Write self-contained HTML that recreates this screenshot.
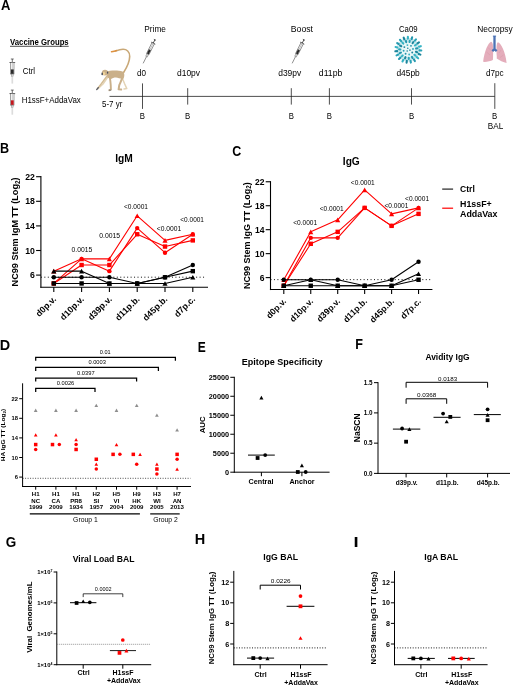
<!DOCTYPE html>
<html lang="en">
<head>
<meta charset="utf-8">
<title>Figure</title>
<style>
html,body{margin:0;padding:0;background:#fff;}
body{width:515px;height:685px;overflow:hidden;}
svg{display:block;}
svg text{font-family:"Liberation Sans",Arial,sans-serif;}
</style>
</head>
<body>
<svg width="515" height="685" viewBox="0 0 515 685">
<rect width="515" height="685" fill="#ffffff"/>
<text x="0.90" y="9.70" font-size="14.00" font-weight="bold" textLength="9.40" lengthAdjust="spacingAndGlyphs">A</text>
<text x="10.00" y="45.10" font-size="8.40" font-weight="bold" textLength="58.70" lengthAdjust="spacingAndGlyphs">Vaccine Groups</text>
<line x1="10.00" y1="46.30" x2="68.70" y2="46.30" stroke="#000000" stroke-width="0.7"/>
<g transform="translate(12.30 59.00) rotate(0) scale(1.0)">
<line x1="-1.44" y1="0" x2="1.44" y2="0" stroke="#333" stroke-width="0.7"/>
<line x1="0" y1="0" x2="0" y2="3.4" stroke="#333" stroke-width="0.7"/>
<line x1="-2.89" y1="3.5" x2="2.89" y2="3.5" stroke="#333" stroke-width="0.7"/>
<rect x="-1.70" y="3.6" width="3.40" height="11.4" fill="#fbfbfb" stroke="#4a4a4a" stroke-width="0.5"/>
<line x1="0" y1="3.5" x2="0" y2="10.5" stroke="#999" stroke-width="0.5"/>
<rect x="-1.40" y="10.4" width="2.80" height="4.5" fill="#2b2b2b"/>
<rect x="-0.8" y="15.0" width="1.6" height="2.6" fill="#ddd" stroke="#666" stroke-width="0.4"/>
<line x1="0" y1="17.6" x2="0" y2="24.6" stroke="#dcdcdc" stroke-width="1.7"/>
</g>
<text x="22.80" y="73.90" font-size="8.70" textLength="12.20" lengthAdjust="spacingAndGlyphs">Ctrl</text>
<g transform="translate(12.30 90.10) rotate(0) scale(1.0)">
<line x1="-1.44" y1="0" x2="1.44" y2="0" stroke="#333" stroke-width="0.7"/>
<line x1="0" y1="0" x2="0" y2="3.4" stroke="#333" stroke-width="0.7"/>
<line x1="-2.89" y1="3.5" x2="2.89" y2="3.5" stroke="#333" stroke-width="0.7"/>
<rect x="-1.70" y="3.6" width="3.40" height="11.4" fill="#fbfbfb" stroke="#4a4a4a" stroke-width="0.5"/>
<line x1="0" y1="3.5" x2="0" y2="10.5" stroke="#999" stroke-width="0.5"/>
<rect x="-1.40" y="10.2" width="2.80" height="4.6" fill="#c4161c"/>
<rect x="-0.8" y="15.0" width="1.6" height="2.6" fill="#ddd" stroke="#666" stroke-width="0.4"/>
<line x1="0" y1="17.6" x2="0" y2="24.6" stroke="#dcdcdc" stroke-width="1.7"/>
</g>
<text x="21.70" y="103.10" font-size="8.70" textLength="59.10" lengthAdjust="spacingAndGlyphs">H1ssF+AddaVax</text>
<g id="monkey">
<path d="M123.6,72.5 C126.5,68 129.6,61 129.7,56.5 C129.8,51.5 126.5,49.2 123,49.3 C120,49.4 117.5,50.3 115.5,51" fill="none" stroke="#c9a877" stroke-width="1.6" stroke-linecap="round"/>
<path d="M116.5,50.6 C114.8,51.0 113,51.5 111.5,51.7" fill="none" stroke="#dd9140" stroke-width="1.5" stroke-linecap="round"/>
<path d="M108.5,76 L103,84 L98,88.6" fill="none" stroke="#e3d3b5" stroke-width="1.5" stroke-linecap="round" stroke-linejoin="round"/>
<path d="M122,77.5 L124.5,83.5 L126.8,88.6 L124,89" fill="none" stroke="#e3d3b5" stroke-width="1.5" stroke-linecap="round" stroke-linejoin="round"/>
<path d="M105.8,72 C110,70.2 118,70.2 122.5,71.5 C124.8,72.5 124.8,76.5 123.2,79 L119,78.2 C116,77 113,77.8 110.8,79.2 L107.5,77.5 Z" fill="#cab08a"/>
<path d="M122.8,75 C122.5,79 120.5,82 119.3,85 L118.6,89.3 L121.2,89.6" fill="none" stroke="#cab08a" stroke-width="2.0" stroke-linecap="round" stroke-linejoin="round"/>
<path d="M109.3,75.5 C110.5,79.5 110.8,84 110.9,89.4 L109.4,90.2" fill="none" stroke="#cab08a" stroke-width="1.9" stroke-linecap="round" stroke-linejoin="round"/>
<path d="M107,76 L101.5,83.5 L97.2,88.8" fill="none" stroke="#d2ba92" stroke-width="1.3" stroke-linecap="round" stroke-linejoin="round"/>
<path d="M98.3,87.6 L96.7,89.6" fill="none" stroke="#555a66" stroke-width="1.3" stroke-linecap="round"/>
<path d="M109.2,90.2 L110.8,90.2" fill="none" stroke="#777" stroke-width="0.9" stroke-linecap="round"/>
<ellipse cx="105" cy="72.6" rx="3.1" ry="2.9" fill="#cab08a"/>
<ellipse cx="103.8" cy="73.6" rx="1.5" ry="1.6" fill="#f0d49a"/>
<ellipse cx="102.2" cy="73.9" rx="0.8" ry="1.3" fill="#4a4e5a"/>
<ellipse cx="107.6" cy="72.7" rx="0.7" ry="1.1" fill="#4a4e5a"/>
</g>
<text x="102.00" y="106.50" font-size="8.70" textLength="20.30" lengthAdjust="spacingAndGlyphs">5-7 yr</text>
<line x1="109.50" y1="96.40" x2="494.80" y2="96.40" stroke="#222" stroke-width="0.8"/>
<line x1="142.50" y1="83.40" x2="142.50" y2="108.90" stroke="#222" stroke-width="0.8"/>
<line x1="187.70" y1="88.20" x2="187.70" y2="104.60" stroke="#222" stroke-width="0.8"/>
<line x1="291.30" y1="88.20" x2="291.30" y2="104.60" stroke="#222" stroke-width="0.8"/>
<line x1="329.40" y1="88.20" x2="329.40" y2="104.60" stroke="#222" stroke-width="0.8"/>
<line x1="411.50" y1="88.20" x2="411.50" y2="104.60" stroke="#222" stroke-width="0.8"/>
<line x1="494.80" y1="83.20" x2="494.80" y2="108.90" stroke="#222" stroke-width="0.8"/>
<text x="137.00" y="76.30" font-size="8.70" textLength="9.00" lengthAdjust="spacingAndGlyphs">d0</text>
<text x="177.00" y="76.30" font-size="8.70" textLength="23.00" lengthAdjust="spacingAndGlyphs">d10pv</text>
<text x="278.20" y="76.30" font-size="8.70" textLength="23.00" lengthAdjust="spacingAndGlyphs">d39pv</text>
<text x="318.80" y="76.30" font-size="8.70" textLength="23.50" lengthAdjust="spacingAndGlyphs">d11pb</text>
<text x="396.40" y="76.30" font-size="8.70" textLength="23.40" lengthAdjust="spacingAndGlyphs">d45pb</text>
<text x="486.00" y="76.30" font-size="8.70" textLength="17.70" lengthAdjust="spacingAndGlyphs">d7pc</text>
<text x="142.30" y="118.60" font-size="8.30" text-anchor="middle" textLength="5.20" lengthAdjust="spacingAndGlyphs">B</text>
<text x="187.50" y="118.60" font-size="8.30" text-anchor="middle" textLength="5.20" lengthAdjust="spacingAndGlyphs">B</text>
<text x="291.30" y="118.60" font-size="8.30" text-anchor="middle" textLength="5.20" lengthAdjust="spacingAndGlyphs">B</text>
<text x="329.40" y="118.60" font-size="8.30" text-anchor="middle" textLength="5.20" lengthAdjust="spacingAndGlyphs">B</text>
<text x="411.50" y="118.60" font-size="8.30" text-anchor="middle" textLength="5.20" lengthAdjust="spacingAndGlyphs">B</text>
<text x="494.60" y="118.60" font-size="8.30" text-anchor="middle" textLength="5.20" lengthAdjust="spacingAndGlyphs">B</text>
<text x="495.50" y="129.10" font-size="8.30" text-anchor="middle" textLength="15.40" lengthAdjust="spacingAndGlyphs">BAL</text>
<text x="144.30" y="31.70" font-size="8.70" textLength="21.60" lengthAdjust="spacingAndGlyphs">Prime</text>
<text x="290.80" y="31.70" font-size="8.70" textLength="22.20" lengthAdjust="spacingAndGlyphs">Boost</text>
<text x="399.00" y="31.70" font-size="8.70" textLength="18.60" lengthAdjust="spacingAndGlyphs">Ca09</text>
<text x="477.30" y="31.50" font-size="8.70" textLength="35.40" lengthAdjust="spacingAndGlyphs">Necropsy</text>
<g transform="translate(154.90 39.80) rotate(26.5) scale(1.07)">
<line x1="-1.06" y1="0" x2="1.06" y2="0" stroke="#333" stroke-width="0.7"/>
<line x1="0" y1="0" x2="0" y2="3.4" stroke="#333" stroke-width="0.7"/>
<line x1="-2.12" y1="3.5" x2="2.12" y2="3.5" stroke="#333" stroke-width="0.7"/>
<rect x="-1.25" y="3.6" width="2.50" height="11.4" fill="#fbfbfb" stroke="#4a4a4a" stroke-width="0.5"/>
<line x1="0" y1="3.5" x2="0" y2="10.5" stroke="#999" stroke-width="0.5"/>
<rect x="-0.95" y="10.4" width="1.90" height="4.5" fill="#2b2b2b"/>
<rect x="-0.8" y="15.0" width="1.6" height="2.6" fill="#ddd" stroke="#666" stroke-width="0.4"/>
<line x1="0" y1="17.6" x2="0" y2="24.6" stroke="#555" stroke-width="0.55"/>
</g>
<g transform="translate(303.90 39.80) rotate(26.5) scale(1.07)">
<line x1="-1.06" y1="0" x2="1.06" y2="0" stroke="#333" stroke-width="0.7"/>
<line x1="0" y1="0" x2="0" y2="3.4" stroke="#333" stroke-width="0.7"/>
<line x1="-2.12" y1="3.5" x2="2.12" y2="3.5" stroke="#333" stroke-width="0.7"/>
<rect x="-1.25" y="3.6" width="2.50" height="11.4" fill="#fbfbfb" stroke="#4a4a4a" stroke-width="0.5"/>
<line x1="0" y1="3.5" x2="0" y2="10.5" stroke="#999" stroke-width="0.5"/>
<rect x="-0.95" y="10.4" width="1.90" height="4.5" fill="#2b2b2b"/>
<rect x="-0.8" y="15.0" width="1.6" height="2.6" fill="#ddd" stroke="#666" stroke-width="0.4"/>
<line x1="0" y1="17.6" x2="0" y2="24.6" stroke="#555" stroke-width="0.55"/>
</g>
<g id="virus">
<circle cx="408.3" cy="49.8" r="11.76" fill="#c9e9ed"/>
<circle cx="408.0" cy="49.5" r="7.84" fill="#e9f7f8"/>
<line x1="419.49" y1="50.36" x2="421.30" y2="50.45" stroke="#2aa3b7" stroke-width="2.1" stroke-linecap="round"/>
<line x1="418.70" y1="53.96" x2="420.39" y2="54.64" stroke="#1c869d" stroke-width="2.1" stroke-linecap="round"/>
<line x1="416.78" y1="57.11" x2="418.16" y2="58.30" stroke="#35b3c4" stroke-width="2.1" stroke-linecap="round"/>
<line x1="413.95" y1="59.47" x2="414.87" y2="61.04" stroke="#2396ad" stroke-width="2.1" stroke-linecap="round"/>
<line x1="410.50" y1="60.78" x2="410.86" y2="62.57" stroke="#2aa3b7" stroke-width="2.1" stroke-linecap="round"/>
<line x1="406.82" y1="60.90" x2="406.58" y2="62.71" stroke="#1c869d" stroke-width="2.1" stroke-linecap="round"/>
<line x1="403.29" y1="59.82" x2="402.48" y2="61.45" stroke="#35b3c4" stroke-width="2.1" stroke-linecap="round"/>
<line x1="400.31" y1="57.65" x2="399.01" y2="58.93" stroke="#2396ad" stroke-width="2.1" stroke-linecap="round"/>
<line x1="398.20" y1="54.63" x2="396.55" y2="55.42" stroke="#2aa3b7" stroke-width="2.1" stroke-linecap="round"/>
<line x1="397.17" y1="51.09" x2="395.37" y2="51.30" stroke="#1c869d" stroke-width="2.1" stroke-linecap="round"/>
<line x1="397.36" y1="47.41" x2="395.58" y2="47.02" stroke="#35b3c4" stroke-width="2.1" stroke-linecap="round"/>
<line x1="398.73" y1="43.98" x2="397.17" y2="43.04" stroke="#2396ad" stroke-width="2.1" stroke-linecap="round"/>
<line x1="401.14" y1="41.19" x2="399.97" y2="39.79" stroke="#2aa3b7" stroke-width="2.1" stroke-linecap="round"/>
<line x1="404.32" y1="39.33" x2="403.67" y2="37.63" stroke="#1c869d" stroke-width="2.1" stroke-linecap="round"/>
<line x1="407.93" y1="38.61" x2="407.87" y2="36.79" stroke="#35b3c4" stroke-width="2.1" stroke-linecap="round"/>
<line x1="411.59" y1="39.09" x2="412.12" y2="37.35" stroke="#2396ad" stroke-width="2.1" stroke-linecap="round"/>
<line x1="414.89" y1="40.74" x2="415.96" y2="39.27" stroke="#2aa3b7" stroke-width="2.1" stroke-linecap="round"/>
<line x1="417.47" y1="43.37" x2="418.96" y2="42.33" stroke="#1c869d" stroke-width="2.1" stroke-linecap="round"/>
<line x1="419.06" y1="46.70" x2="420.81" y2="46.19" stroke="#35b3c4" stroke-width="2.1" stroke-linecap="round"/>
<line x1="415.88" y1="51.81" x2="417.23" y2="52.17" stroke="#1c869d" stroke-width="2.0" stroke-linecap="round"/>
<line x1="414.40" y1="54.72" x2="415.49" y2="55.60" stroke="#35b3c4" stroke-width="2.0" stroke-linecap="round"/>
<line x1="411.88" y1="56.78" x2="412.51" y2="58.02" stroke="#2396ad" stroke-width="2.0" stroke-linecap="round"/>
<line x1="408.73" y1="57.63" x2="408.81" y2="59.03" stroke="#2aa3b7" stroke-width="2.0" stroke-linecap="round"/>
<line x1="405.51" y1="57.13" x2="405.01" y2="58.43" stroke="#1c869d" stroke-width="2.0" stroke-linecap="round"/>
<line x1="402.77" y1="55.36" x2="401.78" y2="56.35" stroke="#35b3c4" stroke-width="2.0" stroke-linecap="round"/>
<line x1="400.99" y1="52.63" x2="399.68" y2="53.13" stroke="#2396ad" stroke-width="2.0" stroke-linecap="round"/>
<line x1="400.47" y1="49.41" x2="399.07" y2="49.34" stroke="#2aa3b7" stroke-width="2.0" stroke-linecap="round"/>
<line x1="401.31" y1="46.26" x2="400.06" y2="45.62" stroke="#1c869d" stroke-width="2.0" stroke-linecap="round"/>
<line x1="403.35" y1="43.72" x2="402.47" y2="42.63" stroke="#35b3c4" stroke-width="2.0" stroke-linecap="round"/>
<line x1="406.25" y1="42.23" x2="405.89" y2="40.88" stroke="#2396ad" stroke-width="2.0" stroke-linecap="round"/>
<line x1="409.51" y1="42.05" x2="409.72" y2="40.67" stroke="#2aa3b7" stroke-width="2.0" stroke-linecap="round"/>
<line x1="412.55" y1="43.21" x2="413.31" y2="42.04" stroke="#1c869d" stroke-width="2.0" stroke-linecap="round"/>
<line x1="414.87" y1="45.51" x2="416.04" y2="44.75" stroke="#35b3c4" stroke-width="2.0" stroke-linecap="round"/>
<line x1="416.04" y1="48.56" x2="417.42" y2="48.33" stroke="#2396ad" stroke-width="2.0" stroke-linecap="round"/>
<circle cx="412.23" cy="52.49" r="0.95" fill="#1c869d"/>
<circle cx="409.18" cy="54.48" r="0.95" fill="#35b3c4"/>
<circle cx="405.61" cy="53.73" r="0.95" fill="#2396ad"/>
<circle cx="403.62" cy="50.68" r="0.95" fill="#2aa3b7"/>
<circle cx="404.37" cy="47.11" r="0.95" fill="#1c869d"/>
<circle cx="407.42" cy="45.12" r="0.95" fill="#35b3c4"/>
<circle cx="410.99" cy="45.87" r="0.95" fill="#2396ad"/>
<circle cx="412.98" cy="48.92" r="0.95" fill="#2aa3b7"/>
<circle cx="409.95" cy="50.13" r="0.8" fill="#1c869d"/>
<circle cx="407.19" cy="51.06" r="0.8" fill="#1c869d"/>
<circle cx="407.77" cy="48.21" r="0.8" fill="#1c869d"/>
</g>
<g id="lungs">
<path d="M490.7,41.9 C488.2,42.6 484.2,51.5 483.1,61.8 C486,62.2 490.6,61.2 492.9,60 C493.2,55.5 493.2,49 492.9,45 C492.7,43 491.8,41.6 490.7,41.9 Z" fill="#e4adbb"/>
<path d="M497.9,42.3 C500.6,42.6 505.6,52 506.6,62.9 C503.6,62.4 499,60.4 496.7,58.6 C497.1,56.6 496.4,54.5 496.5,51.5 C496.6,48 496.3,43.5 497.9,42.3 Z" fill="#e4adbb"/>
<path d="M486.5,52 L490,55 M488,47.5 L491,50.5 M501,50 L499,53 M503.5,55 L500,57.5" fill="none" stroke="#d895a8" stroke-width="0.6" opacity="0.8"/>
<path d="M494.5,35.9 L494.5,49.7 M494.5,49.2 L492.3,51.2 M494.5,49.2 L496.7,51.2" fill="none" stroke="#4d72b4" stroke-width="2.3" stroke-linecap="butt"/>
<line x1="492.9" y1="36.1" x2="496.1" y2="36.1" stroke="#4d72b4" stroke-width="1.0"/>
</g>
<text x="0.00" y="152.90" font-size="14.00" font-weight="bold" textLength="9.10" lengthAdjust="spacingAndGlyphs">B</text>
<line x1="40.90" y1="277.19" x2="205.00" y2="277.19" stroke="#000000" stroke-width="0.95" stroke-dasharray="1.0 2.45"/>
<polyline points="53.80,271.16 81.60,258.86 109.40,258.86 137.20,215.81 165.00,240.41 192.80,234.26" fill="none" stroke="#ff0000" stroke-width="1.1" stroke-linejoin="round"/>
<polyline points="53.80,283.46 81.60,258.86 109.40,271.16 137.20,228.11 165.00,252.71 192.80,234.26" fill="none" stroke="#ff0000" stroke-width="1.1" stroke-linejoin="round"/>
<polyline points="53.80,283.46 81.60,265.01 109.40,265.01 137.20,234.26 165.00,246.56 192.80,240.41" fill="none" stroke="#ff0000" stroke-width="1.1" stroke-linejoin="round"/>
<polygon points="53.80,268.87 51.25,273.46 56.35,273.46" fill="#ff0000"/>
<polygon points="81.60,256.57 79.05,261.16 84.15,261.16" fill="#ff0000"/>
<polygon points="109.40,256.57 106.85,261.16 111.95,261.16" fill="#ff0000"/>
<polygon points="137.20,213.52 134.65,218.11 139.75,218.11" fill="#ff0000"/>
<polygon points="165.00,238.12 162.45,242.71 167.55,242.71" fill="#ff0000"/>
<polygon points="192.80,231.97 190.25,236.56 195.35,236.56" fill="#ff0000"/>
<circle cx="53.80" cy="283.46" r="2.20" fill="#ff0000"/>
<circle cx="81.60" cy="258.86" r="2.20" fill="#ff0000"/>
<circle cx="109.40" cy="271.16" r="2.20" fill="#ff0000"/>
<circle cx="137.20" cy="228.11" r="2.20" fill="#ff0000"/>
<circle cx="165.00" cy="252.71" r="2.20" fill="#ff0000"/>
<circle cx="192.80" cy="234.26" r="2.20" fill="#ff0000"/>
<rect x="51.60" y="281.26" width="4.40" height="4.40" fill="#ff0000"/>
<rect x="79.40" y="262.81" width="4.40" height="4.40" fill="#ff0000"/>
<rect x="107.20" y="262.81" width="4.40" height="4.40" fill="#ff0000"/>
<rect x="135.00" y="232.06" width="4.40" height="4.40" fill="#ff0000"/>
<rect x="162.80" y="244.36" width="4.40" height="4.40" fill="#ff0000"/>
<rect x="190.60" y="238.21" width="4.40" height="4.40" fill="#ff0000"/>
<polyline points="53.80,271.16 81.60,271.16 109.40,283.46 137.20,283.46 165.00,283.46 192.80,277.31" fill="none" stroke="#000000" stroke-width="1.1" stroke-linejoin="round"/>
<polyline points="53.80,277.31 81.60,277.31 109.40,277.31 137.20,283.46 165.00,277.31 192.80,265.01" fill="none" stroke="#000000" stroke-width="1.1" stroke-linejoin="round"/>
<polyline points="53.80,283.46 81.60,283.46 109.40,283.46 137.20,283.46 165.00,277.31 192.80,271.16" fill="none" stroke="#000000" stroke-width="1.1" stroke-linejoin="round"/>
<polygon points="53.80,268.87 51.25,273.46 56.35,273.46" fill="#000000"/>
<polygon points="81.60,268.87 79.05,273.46 84.15,273.46" fill="#000000"/>
<polygon points="109.40,281.17 106.85,285.76 111.95,285.76" fill="#000000"/>
<polygon points="137.20,281.17 134.65,285.76 139.75,285.76" fill="#000000"/>
<polygon points="165.00,281.17 162.45,285.76 167.55,285.76" fill="#000000"/>
<polygon points="192.80,275.02 190.25,279.61 195.35,279.61" fill="#000000"/>
<circle cx="53.80" cy="277.31" r="2.20" fill="#000000"/>
<circle cx="81.60" cy="277.31" r="2.20" fill="#000000"/>
<circle cx="109.40" cy="277.31" r="2.20" fill="#000000"/>
<circle cx="137.20" cy="283.46" r="2.20" fill="#000000"/>
<circle cx="165.00" cy="277.31" r="2.20" fill="#000000"/>
<circle cx="192.80" cy="265.01" r="2.20" fill="#000000"/>
<rect x="51.60" y="281.26" width="4.40" height="4.40" fill="#000000"/>
<rect x="79.40" y="281.26" width="4.40" height="4.40" fill="#000000"/>
<rect x="107.20" y="281.26" width="4.40" height="4.40" fill="#000000"/>
<rect x="135.00" y="281.26" width="4.40" height="4.40" fill="#000000"/>
<rect x="162.80" y="275.11" width="4.40" height="4.40" fill="#000000"/>
<rect x="190.60" y="268.96" width="4.40" height="4.40" fill="#000000"/>
<line x1="40.90" y1="176.05" x2="40.90" y2="287.85" stroke="#000000" stroke-width="1.1"/>
<line x1="40.35" y1="287.30" x2="208.00" y2="287.30" stroke="#000000" stroke-width="1.1"/>
<line x1="36.10" y1="275.10" x2="40.90" y2="275.10" stroke="#000000" stroke-width="1.1"/>
<text x="34.90" y="278.20" font-size="8.70" font-weight="bold" text-anchor="end">6</text>
<line x1="36.10" y1="250.50" x2="40.90" y2="250.50" stroke="#000000" stroke-width="1.1"/>
<text x="34.90" y="253.60" font-size="8.70" font-weight="bold" text-anchor="end">10</text>
<line x1="36.10" y1="225.90" x2="40.90" y2="225.90" stroke="#000000" stroke-width="1.1"/>
<text x="34.90" y="229.00" font-size="8.70" font-weight="bold" text-anchor="end">14</text>
<line x1="36.10" y1="201.30" x2="40.90" y2="201.30" stroke="#000000" stroke-width="1.1"/>
<text x="34.90" y="204.40" font-size="8.70" font-weight="bold" text-anchor="end">18</text>
<line x1="36.10" y1="176.70" x2="40.90" y2="176.70" stroke="#000000" stroke-width="1.1"/>
<text x="34.90" y="179.80" font-size="8.70" font-weight="bold" text-anchor="end">22</text>
<line x1="53.80" y1="287.30" x2="53.80" y2="291.90" stroke="#000000" stroke-width="1.1"/>
<line x1="81.60" y1="287.30" x2="81.60" y2="291.90" stroke="#000000" stroke-width="1.1"/>
<line x1="109.40" y1="287.30" x2="109.40" y2="291.90" stroke="#000000" stroke-width="1.1"/>
<line x1="137.20" y1="287.30" x2="137.20" y2="291.90" stroke="#000000" stroke-width="1.1"/>
<line x1="165.00" y1="287.30" x2="165.00" y2="291.90" stroke="#000000" stroke-width="1.1"/>
<line x1="192.80" y1="287.30" x2="192.80" y2="291.90" stroke="#000000" stroke-width="1.1"/>
<text x="56.80" y="299.70" font-size="8.80" font-weight="bold" text-anchor="end" transform="rotate(-45 56.80 299.70)">d0p.v.</text>
<text x="84.60" y="299.70" font-size="8.80" font-weight="bold" text-anchor="end" transform="rotate(-45 84.60 299.70)">d10p.v.</text>
<text x="112.40" y="299.70" font-size="8.80" font-weight="bold" text-anchor="end" transform="rotate(-45 112.40 299.70)">d39p.v.</text>
<text x="140.20" y="299.70" font-size="8.80" font-weight="bold" text-anchor="end" transform="rotate(-45 140.20 299.70)">d11p.b.</text>
<text x="168.00" y="299.70" font-size="8.80" font-weight="bold" text-anchor="end" transform="rotate(-45 168.00 299.70)">d45p.b.</text>
<text x="195.80" y="299.70" font-size="8.80" font-weight="bold" text-anchor="end" transform="rotate(-45 195.80 299.70)">d7p.c.</text>
<text x="18.20" y="231.95" font-size="9.15" font-weight="bold" text-anchor="middle" transform="rotate(-90 18.20 231.95)">NC99 Stem IgM TT (Log<tspan font-size="70%" dy="1.5">2</tspan><tspan dy="-1.5">)</tspan></text>
<text x="124.00" y="162.20" font-size="10.20" font-weight="bold" text-anchor="middle">IgM</text>
<text x="71.50" y="252.40" font-size="6.60" textLength="20.70" lengthAdjust="spacingAndGlyphs">0.0015</text>
<text x="99.20" y="238.00" font-size="6.60" textLength="21.00" lengthAdjust="spacingAndGlyphs">0.0015</text>
<text x="124.00" y="208.70" font-size="6.60" textLength="24.00" lengthAdjust="spacingAndGlyphs">&lt;0.0001</text>
<text x="156.80" y="230.90" font-size="6.60" textLength="24.50" lengthAdjust="spacingAndGlyphs">&lt;0.0001</text>
<text x="180.30" y="221.60" font-size="6.60" textLength="23.70" lengthAdjust="spacingAndGlyphs">&lt;0.0001</text>
<text x="232.30" y="156.40" font-size="14.00" font-weight="bold" textLength="9.00" lengthAdjust="spacingAndGlyphs">C</text>
<line x1="270.50" y1="279.64" x2="431.00" y2="279.64" stroke="#000000" stroke-width="0.95" stroke-dasharray="1.0 2.45"/>
<polyline points="283.80,279.76 310.75,231.84 337.70,219.86 364.65,189.91 391.60,213.87 418.55,207.88" fill="none" stroke="#ff0000" stroke-width="1.1" stroke-linejoin="round"/>
<polyline points="283.80,285.75 310.75,237.83 337.70,237.83 364.65,207.88 391.60,225.85 418.55,207.88" fill="none" stroke="#ff0000" stroke-width="1.1" stroke-linejoin="round"/>
<polyline points="283.80,285.75 310.75,243.82 337.70,231.84 364.65,207.88 391.60,225.85 418.55,213.87" fill="none" stroke="#ff0000" stroke-width="1.1" stroke-linejoin="round"/>
<polygon points="283.80,277.46 281.25,282.05 286.35,282.05" fill="#ff0000"/>
<polygon points="310.75,229.54 308.20,234.13 313.30,234.13" fill="#ff0000"/>
<polygon points="337.70,217.56 335.15,222.15 340.25,222.15" fill="#ff0000"/>
<polygon points="364.65,187.61 362.10,192.20 367.20,192.20" fill="#ff0000"/>
<polygon points="391.60,211.57 389.05,216.16 394.15,216.16" fill="#ff0000"/>
<polygon points="418.55,205.58 416.00,210.17 421.10,210.17" fill="#ff0000"/>
<circle cx="283.80" cy="285.75" r="2.20" fill="#ff0000"/>
<circle cx="310.75" cy="237.83" r="2.20" fill="#ff0000"/>
<circle cx="337.70" cy="237.83" r="2.20" fill="#ff0000"/>
<circle cx="364.65" cy="207.88" r="2.20" fill="#ff0000"/>
<circle cx="391.60" cy="225.85" r="2.20" fill="#ff0000"/>
<circle cx="418.55" cy="207.88" r="2.20" fill="#ff0000"/>
<rect x="281.60" y="283.55" width="4.40" height="4.40" fill="#ff0000"/>
<rect x="308.55" y="241.62" width="4.40" height="4.40" fill="#ff0000"/>
<rect x="335.50" y="229.64" width="4.40" height="4.40" fill="#ff0000"/>
<rect x="362.45" y="205.68" width="4.40" height="4.40" fill="#ff0000"/>
<rect x="389.40" y="223.65" width="4.40" height="4.40" fill="#ff0000"/>
<rect x="416.35" y="211.67" width="4.40" height="4.40" fill="#ff0000"/>
<polyline points="283.80,285.75 310.75,279.76 337.70,285.75 364.65,285.75 391.60,285.75 418.55,273.77" fill="none" stroke="#000000" stroke-width="1.1" stroke-linejoin="round"/>
<polyline points="283.80,279.76 310.75,279.76 337.70,279.76 364.65,285.75 391.60,279.76 418.55,261.79" fill="none" stroke="#000000" stroke-width="1.1" stroke-linejoin="round"/>
<polyline points="283.80,285.75 310.75,285.75 337.70,285.75 364.65,285.75 391.60,285.75 418.55,279.76" fill="none" stroke="#000000" stroke-width="1.1" stroke-linejoin="round"/>
<polygon points="283.80,283.45 281.25,288.04 286.35,288.04" fill="#000000"/>
<polygon points="310.75,277.46 308.20,282.05 313.30,282.05" fill="#000000"/>
<polygon points="337.70,283.45 335.15,288.04 340.25,288.04" fill="#000000"/>
<polygon points="364.65,283.45 362.10,288.04 367.20,288.04" fill="#000000"/>
<polygon points="391.60,283.45 389.05,288.04 394.15,288.04" fill="#000000"/>
<polygon points="418.55,271.47 416.00,276.06 421.10,276.06" fill="#000000"/>
<circle cx="283.80" cy="279.76" r="2.20" fill="#000000"/>
<circle cx="310.75" cy="279.76" r="2.20" fill="#000000"/>
<circle cx="337.70" cy="279.76" r="2.20" fill="#000000"/>
<circle cx="364.65" cy="285.75" r="2.20" fill="#000000"/>
<circle cx="391.60" cy="279.76" r="2.20" fill="#000000"/>
<circle cx="418.55" cy="261.79" r="2.20" fill="#000000"/>
<rect x="281.60" y="283.55" width="4.40" height="4.40" fill="#000000"/>
<rect x="308.55" y="283.55" width="4.40" height="4.40" fill="#000000"/>
<rect x="335.50" y="283.55" width="4.40" height="4.40" fill="#000000"/>
<rect x="362.45" y="283.55" width="4.40" height="4.40" fill="#000000"/>
<rect x="389.40" y="283.55" width="4.40" height="4.40" fill="#000000"/>
<rect x="416.35" y="277.56" width="4.40" height="4.40" fill="#000000"/>
<line x1="270.50" y1="181.15" x2="270.50" y2="290.05" stroke="#000000" stroke-width="1.1"/>
<line x1="269.95" y1="289.50" x2="432.40" y2="289.50" stroke="#000000" stroke-width="1.1"/>
<line x1="265.70" y1="277.60" x2="270.50" y2="277.60" stroke="#000000" stroke-width="1.1"/>
<text x="264.50" y="280.64" font-size="8.53" font-weight="bold" text-anchor="end">6</text>
<line x1="265.70" y1="253.64" x2="270.50" y2="253.64" stroke="#000000" stroke-width="1.1"/>
<text x="264.50" y="256.68" font-size="8.53" font-weight="bold" text-anchor="end">10</text>
<line x1="265.70" y1="229.68" x2="270.50" y2="229.68" stroke="#000000" stroke-width="1.1"/>
<text x="264.50" y="232.72" font-size="8.53" font-weight="bold" text-anchor="end">14</text>
<line x1="265.70" y1="205.72" x2="270.50" y2="205.72" stroke="#000000" stroke-width="1.1"/>
<text x="264.50" y="208.76" font-size="8.53" font-weight="bold" text-anchor="end">18</text>
<line x1="265.70" y1="181.76" x2="270.50" y2="181.76" stroke="#000000" stroke-width="1.1"/>
<text x="264.50" y="184.80" font-size="8.53" font-weight="bold" text-anchor="end">22</text>
<line x1="283.80" y1="289.50" x2="283.80" y2="294.10" stroke="#000000" stroke-width="1.1"/>
<line x1="310.75" y1="289.50" x2="310.75" y2="294.10" stroke="#000000" stroke-width="1.1"/>
<line x1="337.70" y1="289.50" x2="337.70" y2="294.10" stroke="#000000" stroke-width="1.1"/>
<line x1="364.65" y1="289.50" x2="364.65" y2="294.10" stroke="#000000" stroke-width="1.1"/>
<line x1="391.60" y1="289.50" x2="391.60" y2="294.10" stroke="#000000" stroke-width="1.1"/>
<line x1="418.55" y1="289.50" x2="418.55" y2="294.10" stroke="#000000" stroke-width="1.1"/>
<text x="286.80" y="301.90" font-size="8.62" font-weight="bold" text-anchor="end" transform="rotate(-45 286.80 301.90)">d0p.v.</text>
<text x="313.75" y="301.90" font-size="8.62" font-weight="bold" text-anchor="end" transform="rotate(-45 313.75 301.90)">d10p.v.</text>
<text x="340.70" y="301.90" font-size="8.62" font-weight="bold" text-anchor="end" transform="rotate(-45 340.70 301.90)">d39p.v.</text>
<text x="367.65" y="301.90" font-size="8.62" font-weight="bold" text-anchor="end" transform="rotate(-45 367.65 301.90)">d11p.b.</text>
<text x="394.60" y="301.90" font-size="8.62" font-weight="bold" text-anchor="end" transform="rotate(-45 394.60 301.90)">d45p.b.</text>
<text x="421.55" y="301.90" font-size="8.62" font-weight="bold" text-anchor="end" transform="rotate(-45 421.55 301.90)">d7p.c.</text>
<text x="250.00" y="235.60" font-size="8.97" font-weight="bold" text-anchor="middle" transform="rotate(-90 250.00 235.60)">NC99 Stem IgG TT (Log<tspan font-size="70%" dy="1.5">2</tspan><tspan dy="-1.5">)</tspan></text>
<text x="351.30" y="164.80" font-size="10.20" font-weight="bold" text-anchor="middle">IgG</text>
<text x="293.20" y="225.40" font-size="6.60" textLength="24.00" lengthAdjust="spacingAndGlyphs">&lt;0.0001</text>
<text x="319.70" y="210.70" font-size="6.60" textLength="24.00" lengthAdjust="spacingAndGlyphs">&lt;0.0001</text>
<text x="350.80" y="184.70" font-size="6.60" textLength="24.00" lengthAdjust="spacingAndGlyphs">&lt;0.0001</text>
<text x="384.40" y="208.20" font-size="6.60" textLength="24.00" lengthAdjust="spacingAndGlyphs">&lt;0.0001</text>
<text x="405.10" y="200.90" font-size="6.60" textLength="24.00" lengthAdjust="spacingAndGlyphs">&lt;0.0001</text>
<line x1="442.20" y1="189.10" x2="453.10" y2="189.10" stroke="#222" stroke-width="1.2"/>
<line x1="442.20" y1="208.20" x2="453.10" y2="208.20" stroke="#ff0000" stroke-width="1.2"/>
<text x="460.00" y="192.00" font-size="8.60" font-weight="bold" textLength="14.80" lengthAdjust="spacingAndGlyphs">Ctrl</text>
<text x="460.00" y="207.20" font-size="8.60" font-weight="bold" textLength="31.70" lengthAdjust="spacingAndGlyphs">H1ssF+</text>
<text x="460.00" y="216.90" font-size="8.60" font-weight="bold" textLength="37.50" lengthAdjust="spacingAndGlyphs">AddaVax</text>
<text x="-0.15" y="350.00" font-size="14.00" font-weight="bold" textLength="10.40" lengthAdjust="spacingAndGlyphs">D</text>
<line x1="22.60" y1="478.30" x2="190.50" y2="478.30" stroke="#000000" stroke-width="0.7" stroke-dasharray="1.0 1.5"/>
<line x1="22.60" y1="383.30" x2="22.60" y2="487.00" stroke="#000000" stroke-width="1.0"/>
<line x1="22.10" y1="486.50" x2="191.00" y2="486.50" stroke="#000000" stroke-width="1.0"/>
<line x1="19.20" y1="477.10" x2="22.60" y2="477.10" stroke="#000000" stroke-width="1.0"/>
<text x="18.00" y="479.20" font-size="5.80" font-weight="bold" text-anchor="end">6</text>
<line x1="19.20" y1="457.50" x2="22.60" y2="457.50" stroke="#000000" stroke-width="1.0"/>
<text x="18.00" y="459.60" font-size="5.80" font-weight="bold" text-anchor="end">10</text>
<line x1="19.20" y1="437.90" x2="22.60" y2="437.90" stroke="#000000" stroke-width="1.0"/>
<text x="18.00" y="440.00" font-size="5.80" font-weight="bold" text-anchor="end">14</text>
<line x1="19.20" y1="418.30" x2="22.60" y2="418.30" stroke="#000000" stroke-width="1.0"/>
<text x="18.00" y="420.40" font-size="5.80" font-weight="bold" text-anchor="end">18</text>
<line x1="19.20" y1="398.70" x2="22.60" y2="398.70" stroke="#000000" stroke-width="1.0"/>
<text x="18.00" y="400.80" font-size="5.80" font-weight="bold" text-anchor="end">22</text>
<line x1="35.70" y1="486.50" x2="35.70" y2="489.70" stroke="#000000" stroke-width="1.0"/>
<line x1="55.90" y1="486.50" x2="55.90" y2="489.70" stroke="#000000" stroke-width="1.0"/>
<line x1="76.10" y1="486.50" x2="76.10" y2="489.70" stroke="#000000" stroke-width="1.0"/>
<line x1="96.30" y1="486.50" x2="96.30" y2="489.70" stroke="#000000" stroke-width="1.0"/>
<line x1="116.50" y1="486.50" x2="116.50" y2="489.70" stroke="#000000" stroke-width="1.0"/>
<line x1="136.70" y1="486.50" x2="136.70" y2="489.70" stroke="#000000" stroke-width="1.0"/>
<line x1="156.90" y1="486.50" x2="156.90" y2="489.70" stroke="#000000" stroke-width="1.0"/>
<line x1="177.10" y1="486.50" x2="177.10" y2="489.70" stroke="#000000" stroke-width="1.0"/>
<text x="4.90" y="435.00" font-size="6.20" font-weight="bold" text-anchor="middle" transform="rotate(-90 4.90 435.00)" textLength="52.50" lengthAdjust="spacingAndGlyphs">HA IgG TT (Log<tspan font-size="70%" dy="1">2</tspan><tspan dy="-1">)</tspan></text>
<polygon points="35.70,408.60 33.85,411.93 37.55,411.93" fill="#8e8e8e"/>
<polygon points="35.70,433.14 33.90,436.38 37.50,436.38" fill="#ff0000"/>
<rect x="33.95" y="442.81" width="3.50" height="3.50" fill="#ff0000"/>
<circle cx="35.70" cy="449.46" r="1.75" fill="#ff0000"/>
<polygon points="55.90,408.60 54.05,411.93 57.75,411.93" fill="#8e8e8e"/>
<polygon points="55.90,433.14 54.10,436.38 57.70,436.38" fill="#ff0000"/>
<rect x="50.75" y="442.81" width="3.50" height="3.50" fill="#ff0000"/>
<circle cx="59.30" cy="444.56" r="1.75" fill="#ff0000"/>
<polygon points="76.10,408.60 74.25,411.93 77.95,411.93" fill="#8e8e8e"/>
<polygon points="76.10,438.04 74.30,441.28 77.90,441.28" fill="#ff0000"/>
<circle cx="76.10" cy="444.56" r="1.75" fill="#ff0000"/>
<rect x="74.35" y="447.71" width="3.50" height="3.50" fill="#ff0000"/>
<polygon points="96.30,403.70 94.45,407.03 98.15,407.03" fill="#8e8e8e"/>
<rect x="94.55" y="457.51" width="3.50" height="3.50" fill="#ff0000"/>
<polygon points="96.30,462.54 94.50,465.78 98.10,465.78" fill="#ff0000"/>
<circle cx="96.30" cy="469.06" r="1.75" fill="#ff0000"/>
<polygon points="116.50,408.60 114.65,411.93 118.35,411.93" fill="#8e8e8e"/>
<polygon points="116.50,442.94 114.70,446.18 118.30,446.18" fill="#ff0000"/>
<rect x="111.35" y="452.61" width="3.50" height="3.50" fill="#ff0000"/>
<circle cx="119.90" cy="454.36" r="1.75" fill="#ff0000"/>
<polygon points="136.70,403.70 134.85,407.03 138.55,407.03" fill="#8e8e8e"/>
<rect x="131.55" y="452.61" width="3.50" height="3.50" fill="#ff0000"/>
<polygon points="140.10,452.74 138.30,455.98 141.90,455.98" fill="#ff0000"/>
<circle cx="136.70" cy="464.16" r="1.75" fill="#ff0000"/>
<polygon points="156.90,413.50 155.05,416.83 158.75,416.83" fill="#8e8e8e"/>
<polygon points="156.90,462.54 155.10,465.78 158.70,465.78" fill="#ff0000"/>
<rect x="155.15" y="467.31" width="3.50" height="3.50" fill="#ff0000"/>
<circle cx="156.90" cy="473.96" r="1.75" fill="#ff0000"/>
<polygon points="177.10,428.20 175.25,431.53 178.95,431.53" fill="#8e8e8e"/>
<rect x="175.35" y="452.61" width="3.50" height="3.50" fill="#ff0000"/>
<circle cx="177.10" cy="459.26" r="1.75" fill="#ff0000"/>
<polygon points="177.10,467.44 175.30,470.68 178.90,470.68" fill="#ff0000"/>
<polyline points="35.70,391.90 35.70,388.40 95.00,388.40 95.00,391.90" fill="none" stroke="#000000" stroke-width="1.25"/>
<text x="56.80" y="385.30" font-size="5.60" textLength="17.50" lengthAdjust="spacingAndGlyphs">0.0026</text>
<polyline points="35.70,381.60 35.70,378.10 136.60,378.10 136.60,381.60" fill="none" stroke="#000000" stroke-width="1.25"/>
<text x="77.10" y="375.00" font-size="5.60" textLength="17.50" lengthAdjust="spacingAndGlyphs">0.0397</text>
<polyline points="35.70,370.90 35.70,367.40 158.40,367.40 158.40,370.90" fill="none" stroke="#000000" stroke-width="1.25"/>
<text x="88.40" y="364.30" font-size="5.60" textLength="17.50" lengthAdjust="spacingAndGlyphs">0.0003</text>
<polyline points="35.70,360.80 35.70,357.30 175.40,357.30 175.40,360.80" fill="none" stroke="#000000" stroke-width="1.25"/>
<text x="99.80" y="354.20" font-size="5.60" textLength="10.80" lengthAdjust="spacingAndGlyphs">0.01</text>
<text x="35.70" y="495.80" font-size="6.10" font-weight="bold" text-anchor="middle">H1</text>
<text x="35.70" y="502.50" font-size="6.10" font-weight="bold" text-anchor="middle">NC</text>
<text x="35.70" y="508.90" font-size="6.10" font-weight="bold" text-anchor="middle">1999</text>
<text x="55.90" y="495.80" font-size="6.10" font-weight="bold" text-anchor="middle">H1</text>
<text x="55.90" y="502.50" font-size="6.10" font-weight="bold" text-anchor="middle">CA</text>
<text x="55.90" y="508.90" font-size="6.10" font-weight="bold" text-anchor="middle">2009</text>
<text x="76.10" y="495.80" font-size="6.10" font-weight="bold" text-anchor="middle">H1</text>
<text x="76.10" y="502.50" font-size="6.10" font-weight="bold" text-anchor="middle">PR8</text>
<text x="76.10" y="508.90" font-size="6.10" font-weight="bold" text-anchor="middle">1934</text>
<text x="96.30" y="495.80" font-size="6.10" font-weight="bold" text-anchor="middle">H2</text>
<text x="96.30" y="502.50" font-size="6.10" font-weight="bold" text-anchor="middle">SI</text>
<text x="96.30" y="508.90" font-size="6.10" font-weight="bold" text-anchor="middle">1957</text>
<text x="116.50" y="495.80" font-size="6.10" font-weight="bold" text-anchor="middle">H5</text>
<text x="116.50" y="502.50" font-size="6.10" font-weight="bold" text-anchor="middle">VI</text>
<text x="116.50" y="508.90" font-size="6.10" font-weight="bold" text-anchor="middle">2004</text>
<text x="136.70" y="495.80" font-size="6.10" font-weight="bold" text-anchor="middle">H9</text>
<text x="136.70" y="502.50" font-size="6.10" font-weight="bold" text-anchor="middle">HK</text>
<text x="136.70" y="508.90" font-size="6.10" font-weight="bold" text-anchor="middle">2009</text>
<text x="156.90" y="495.80" font-size="6.10" font-weight="bold" text-anchor="middle">H3</text>
<text x="156.90" y="502.50" font-size="6.10" font-weight="bold" text-anchor="middle">WI</text>
<text x="156.90" y="508.90" font-size="6.10" font-weight="bold" text-anchor="middle">2005</text>
<text x="177.10" y="495.80" font-size="6.10" font-weight="bold" text-anchor="middle">H7</text>
<text x="177.10" y="502.50" font-size="6.10" font-weight="bold" text-anchor="middle">AN</text>
<text x="177.10" y="508.90" font-size="6.10" font-weight="bold" text-anchor="middle">2013</text>
<line x1="29.80" y1="513.90" x2="139.90" y2="513.90" stroke="#000000" stroke-width="1.2"/>
<line x1="150.20" y1="513.90" x2="179.70" y2="513.90" stroke="#000000" stroke-width="1.2"/>
<text x="85.40" y="521.70" font-size="6.80" text-anchor="middle">Group 1</text>
<text x="165.50" y="521.70" font-size="6.80" text-anchor="middle">Group 2</text>
<text x="197.80" y="351.70" font-size="14.00" font-weight="bold" textLength="8.00" lengthAdjust="spacingAndGlyphs">E</text>
<text x="282.10" y="364.80" font-size="9.05" font-weight="bold" text-anchor="middle">Epitope Specificity</text>
<line x1="234.30" y1="376.80" x2="234.30" y2="472.70" stroke="#000000" stroke-width="1.0"/>
<line x1="233.80" y1="472.20" x2="329.60" y2="472.20" stroke="#000000" stroke-width="1.0"/>
<line x1="230.30" y1="472.20" x2="234.30" y2="472.20" stroke="#000000" stroke-width="1.0"/>
<text x="229.10" y="474.80" font-size="7.30" font-weight="bold" text-anchor="end">0</text>
<line x1="230.30" y1="453.22" x2="234.30" y2="453.22" stroke="#000000" stroke-width="1.0"/>
<text x="229.10" y="455.82" font-size="7.30" font-weight="bold" text-anchor="end">5000</text>
<line x1="230.30" y1="434.24" x2="234.30" y2="434.24" stroke="#000000" stroke-width="1.0"/>
<text x="229.10" y="436.84" font-size="7.30" font-weight="bold" text-anchor="end">10000</text>
<line x1="230.30" y1="415.26" x2="234.30" y2="415.26" stroke="#000000" stroke-width="1.0"/>
<text x="229.10" y="417.86" font-size="7.30" font-weight="bold" text-anchor="end">15000</text>
<line x1="230.30" y1="396.28" x2="234.30" y2="396.28" stroke="#000000" stroke-width="1.0"/>
<text x="229.10" y="398.88" font-size="7.30" font-weight="bold" text-anchor="end">20000</text>
<line x1="230.30" y1="377.30" x2="234.30" y2="377.30" stroke="#000000" stroke-width="1.0"/>
<text x="229.10" y="379.90" font-size="7.30" font-weight="bold" text-anchor="end">25000</text>
<line x1="261.40" y1="472.20" x2="261.40" y2="476.20" stroke="#000000" stroke-width="1.0"/>
<line x1="301.90" y1="472.20" x2="301.90" y2="476.20" stroke="#000000" stroke-width="1.0"/>
<text x="261.00" y="483.90" font-size="7.20" font-weight="bold" text-anchor="middle">Central</text>
<text x="302.00" y="483.90" font-size="7.20" font-weight="bold" text-anchor="middle">Anchor</text>
<text x="204.90" y="424.80" font-size="7.80" font-weight="bold" text-anchor="middle" transform="rotate(-90 204.90 424.80)">AUC</text>
<line x1="248.00" y1="455.10" x2="274.80" y2="455.10" stroke="#000000" stroke-width="1.0"/>
<polygon points="261.40,395.85 259.35,399.55 263.45,399.55" fill="#000000"/>
<circle cx="265.20" cy="455.10" r="1.90" fill="#000000"/>
<rect x="255.70" y="456.10" width="3.80" height="3.80" fill="#000000"/>
<polygon points="301.90,463.45 299.85,467.15 303.95,467.15" fill="#000000"/>
<rect x="295.90" y="470.10" width="3.80" height="3.80" fill="#000000"/>
<circle cx="305.70" cy="472.00" r="1.90" fill="#000000"/>
<text x="355.20" y="348.80" font-size="14.00" font-weight="bold" textLength="7.70" lengthAdjust="spacingAndGlyphs">F</text>
<text x="447.50" y="359.80" font-size="8.45" font-weight="bold" text-anchor="middle">Avidity IgG</text>
<line x1="378.00" y1="382.15" x2="378.00" y2="473.90" stroke="#000000" stroke-width="1.0"/>
<line x1="377.50" y1="473.40" x2="510.00" y2="473.40" stroke="#000000" stroke-width="1.0"/>
<line x1="374.00" y1="473.40" x2="378.00" y2="473.40" stroke="#000000" stroke-width="1.0"/>
<text x="372.60" y="475.70" font-size="6.30" font-weight="bold" text-anchor="end">0.0</text>
<line x1="374.00" y1="443.15" x2="378.00" y2="443.15" stroke="#000000" stroke-width="1.0"/>
<text x="372.60" y="445.45" font-size="6.30" font-weight="bold" text-anchor="end">0.5</text>
<line x1="374.00" y1="412.90" x2="378.00" y2="412.90" stroke="#000000" stroke-width="1.0"/>
<text x="372.60" y="415.20" font-size="6.30" font-weight="bold" text-anchor="end">1.0</text>
<line x1="374.00" y1="382.65" x2="378.00" y2="382.65" stroke="#000000" stroke-width="1.0"/>
<text x="372.60" y="384.95" font-size="6.30" font-weight="bold" text-anchor="end">1.5</text>
<line x1="406.10" y1="473.40" x2="406.10" y2="477.40" stroke="#000000" stroke-width="1.0"/>
<line x1="446.70" y1="473.40" x2="446.70" y2="477.40" stroke="#000000" stroke-width="1.0"/>
<line x1="487.60" y1="473.40" x2="487.60" y2="477.40" stroke="#000000" stroke-width="1.0"/>
<text x="406.70" y="484.60" font-size="6.50" font-weight="bold" text-anchor="middle">d39p.v.</text>
<text x="447.30" y="484.60" font-size="6.50" font-weight="bold" text-anchor="middle">d11p.b.</text>
<text x="488.20" y="484.60" font-size="6.50" font-weight="bold" text-anchor="middle">d45p.b.</text>
<text x="360.20" y="427.80" font-size="8.50" font-weight="bold" text-anchor="middle" transform="rotate(-90 360.20 427.80)">NaSCN</text>
<line x1="392.90" y1="429.10" x2="420.30" y2="429.10" stroke="#000000" stroke-width="1.0"/>
<circle cx="402.10" cy="428.50" r="1.90" fill="#000000"/>
<polygon points="409.40,427.25 407.35,430.95 411.45,430.95" fill="#000000"/>
<rect x="404.20" y="439.80" width="3.80" height="3.80" fill="#000000"/>
<line x1="433.50" y1="417.30" x2="460.60" y2="417.30" stroke="#000000" stroke-width="1.0"/>
<circle cx="443.10" cy="413.60" r="1.90" fill="#000000"/>
<rect x="448.40" y="415.00" width="3.80" height="3.80" fill="#000000"/>
<polygon points="446.70,419.65 444.65,423.35 448.75,423.35" fill="#000000"/>
<line x1="473.80" y1="414.60" x2="500.80" y2="414.60" stroke="#000000" stroke-width="1.0"/>
<circle cx="487.60" cy="409.30" r="1.90" fill="#000000"/>
<polygon points="487.60,413.05 485.55,416.75 489.65,416.75" fill="#000000"/>
<rect x="485.70" y="418.30" width="3.80" height="3.80" fill="#000000"/>
<polyline points="406.10,387.70 406.10,382.30 487.60,382.30 487.60,387.70" fill="none" stroke="#000000" stroke-width="1.0"/>
<text x="438.10" y="380.60" font-size="6.00" textLength="19.10" lengthAdjust="spacingAndGlyphs">0.0183</text>
<polyline points="406.10,403.80 406.10,398.80 446.70,398.80 446.70,403.80" fill="none" stroke="#000000" stroke-width="1.0"/>
<text x="417.00" y="396.80" font-size="6.00" textLength="19.40" lengthAdjust="spacingAndGlyphs">0.0368</text>
<text x="5.80" y="546.90" font-size="14.00" font-weight="bold" textLength="10.50" lengthAdjust="spacingAndGlyphs">G</text>
<text x="103.60" y="562.10" font-size="8.65" font-weight="bold" text-anchor="middle">Viral Load BAL</text>
<line x1="56.80" y1="571.50" x2="56.80" y2="665.20" stroke="#000000" stroke-width="1.0"/>
<line x1="56.30" y1="664.70" x2="151.20" y2="664.70" stroke="#000000" stroke-width="1.0"/>
<line x1="53.60" y1="572.00" x2="56.80" y2="572.00" stroke="#000000" stroke-width="1.0"/>
<text x="52.40" y="574.00" font-size="5.90" font-weight="bold" text-anchor="end">1×10<tspan font-size="60%" dy="-2">7</tspan></text>
<line x1="53.60" y1="602.90" x2="56.80" y2="602.90" stroke="#000000" stroke-width="1.0"/>
<text x="52.40" y="604.90" font-size="5.90" font-weight="bold" text-anchor="end">1×10<tspan font-size="60%" dy="-2">6</tspan></text>
<line x1="53.60" y1="633.80" x2="56.80" y2="633.80" stroke="#000000" stroke-width="1.0"/>
<text x="52.40" y="635.80" font-size="5.90" font-weight="bold" text-anchor="end">1×10<tspan font-size="60%" dy="-2">5</tspan></text>
<line x1="53.60" y1="664.70" x2="56.80" y2="664.70" stroke="#000000" stroke-width="1.0"/>
<text x="52.40" y="666.70" font-size="5.90" font-weight="bold" text-anchor="end">1×10<tspan font-size="60%" dy="-2">4</tspan></text>
<line x1="83.20" y1="664.70" x2="83.20" y2="668.70" stroke="#000000" stroke-width="1.0"/>
<line x1="122.80" y1="664.70" x2="122.80" y2="668.70" stroke="#000000" stroke-width="1.0"/>
<text x="83.60" y="675.20" font-size="7.00" font-weight="bold" text-anchor="middle">Ctrl</text>
<text x="123.00" y="675.20" font-size="7.00" font-weight="bold" text-anchor="middle">H1ssF</text>
<text x="123.80" y="683.30" font-size="7.00" font-weight="bold" text-anchor="middle">+AddaVax</text>
<text x="31.90" y="617.20" font-size="7.90" font-weight="bold" text-anchor="middle" transform="rotate(-90 31.90 617.20)">Viral  Genomes/mL</text>
<line x1="56.80" y1="644.30" x2="150.50" y2="644.30" stroke="#666" stroke-width="0.7" stroke-dasharray="1.0 1.0"/>
<line x1="70.00" y1="602.70" x2="96.40" y2="602.70" stroke="#000000" stroke-width="1.0"/>
<rect x="74.75" y="601.15" width="3.70" height="3.70" fill="#000000"/>
<polygon points="83.20,599.40 81.20,603.00 85.20,603.00" fill="#000000"/>
<circle cx="89.80" cy="602.30" r="1.85" fill="#000000"/>
<line x1="109.90" y1="650.60" x2="136.00" y2="650.60" stroke="#000000" stroke-width="0.9"/>
<circle cx="122.80" cy="640.00" r="1.85" fill="#ff0000"/>
<polygon points="126.40,648.80 124.40,652.40 128.40,652.40" fill="#ff0000"/>
<rect x="117.65" y="651.05" width="3.70" height="3.70" fill="#ff0000"/>
<polyline points="83.20,597.10 83.20,593.80 122.80,593.80 122.80,597.10" fill="none" stroke="#000000" stroke-width="0.75"/>
<text x="94.80" y="591.10" font-size="5.50" textLength="16.80" lengthAdjust="spacingAndGlyphs">0.0002</text>
<text x="194.70" y="543.60" font-size="14.00" font-weight="bold" textLength="10.50" lengthAdjust="spacingAndGlyphs">H</text>
<text x="280.70" y="559.80" font-size="8.70" font-weight="bold" text-anchor="middle">IgG BAL</text>
<line x1="233.80" y1="647.90" x2="327.00" y2="647.90" stroke="#000000" stroke-width="0.9" stroke-dasharray="1.0 1.6"/>
<line x1="233.80" y1="570.90" x2="233.80" y2="665.20" stroke="#000000" stroke-width="1.0"/>
<line x1="233.30" y1="664.70" x2="327.60" y2="664.70" stroke="#000000" stroke-width="1.0"/>
<line x1="230.20" y1="644.00" x2="233.80" y2="644.00" stroke="#000000" stroke-width="1.0"/>
<text x="229.30" y="646.60" font-size="7.20" font-weight="bold" text-anchor="end">6</text>
<line x1="230.20" y1="623.40" x2="233.80" y2="623.40" stroke="#000000" stroke-width="1.0"/>
<text x="229.30" y="626.00" font-size="7.20" font-weight="bold" text-anchor="end">8</text>
<line x1="230.20" y1="602.80" x2="233.80" y2="602.80" stroke="#000000" stroke-width="1.0"/>
<text x="229.30" y="605.40" font-size="7.20" font-weight="bold" text-anchor="end">10</text>
<line x1="230.20" y1="582.20" x2="233.80" y2="582.20" stroke="#000000" stroke-width="1.0"/>
<text x="229.30" y="584.80" font-size="7.20" font-weight="bold" text-anchor="end">12</text>
<line x1="260.20" y1="664.70" x2="260.20" y2="668.70" stroke="#000000" stroke-width="1.0"/>
<line x1="300.50" y1="664.70" x2="300.50" y2="668.70" stroke="#000000" stroke-width="1.0"/>
<text x="260.60" y="676.80" font-size="7.00" font-weight="bold" text-anchor="middle">Ctrl</text>
<text x="301.10" y="676.80" font-size="7.00" font-weight="bold" text-anchor="middle">H1ssF</text>
<text x="301.10" y="684.70" font-size="7.00" font-weight="bold" text-anchor="middle">+AddaVax</text>
<text x="214.40" y="618.00" font-size="7.80" font-weight="bold" text-anchor="middle" transform="rotate(-90 214.40 618.00)">NC99 Stem IgG TT (Log<tspan font-size="70%" dy="1.2">2</tspan><tspan dy="-1.2">)</tspan></text>
<line x1="247.00" y1="658.10" x2="274.10" y2="658.10" stroke="#000000" stroke-width="1.0"/>
<line x1="286.60" y1="606.30" x2="314.40" y2="606.30" stroke="#000000" stroke-width="1.0"/>
<rect x="251.40" y="656.20" width="3.80" height="3.80" fill="#000000"/>
<circle cx="260.20" cy="658.10" r="1.90" fill="#000000"/>
<polygon points="267.50,656.45 265.45,660.14 269.55,660.14" fill="#000000"/>
<circle cx="300.50" cy="596.10" r="1.90" fill="#ff0000"/>
<rect x="298.60" y="604.40" width="3.80" height="3.80" fill="#ff0000"/>
<polygon points="300.50,636.15 298.45,639.85 302.55,639.85" fill="#ff0000"/>
<polyline points="260.20,589.50 260.20,585.20 300.50,585.20 300.50,589.50" fill="none" stroke="#000000" stroke-width="1.0"/>
<text x="270.80" y="582.90" font-size="6.00" textLength="19.80" lengthAdjust="spacingAndGlyphs">0.0226</text>
<text x="353.40" y="546.90" font-size="14.00" font-weight="bold" textLength="5.10" lengthAdjust="spacingAndGlyphs">I</text>
<text x="441.20" y="560.40" font-size="8.70" font-weight="bold" text-anchor="middle">IgA BAL</text>
<line x1="394.50" y1="647.90" x2="487.60" y2="647.90" stroke="#000000" stroke-width="0.9" stroke-dasharray="1.0 1.6"/>
<line x1="394.50" y1="570.90" x2="394.50" y2="665.20" stroke="#000000" stroke-width="1.0"/>
<line x1="394.00" y1="664.70" x2="487.60" y2="664.70" stroke="#000000" stroke-width="1.0"/>
<line x1="390.90" y1="644.00" x2="394.50" y2="644.00" stroke="#000000" stroke-width="1.0"/>
<text x="390.00" y="646.60" font-size="7.20" font-weight="bold" text-anchor="end">6</text>
<line x1="390.90" y1="623.40" x2="394.50" y2="623.40" stroke="#000000" stroke-width="1.0"/>
<text x="390.00" y="626.00" font-size="7.20" font-weight="bold" text-anchor="end">8</text>
<line x1="390.90" y1="602.80" x2="394.50" y2="602.80" stroke="#000000" stroke-width="1.0"/>
<text x="390.00" y="605.40" font-size="7.20" font-weight="bold" text-anchor="end">10</text>
<line x1="390.90" y1="582.20" x2="394.50" y2="582.20" stroke="#000000" stroke-width="1.0"/>
<text x="390.00" y="584.80" font-size="7.20" font-weight="bold" text-anchor="end">12</text>
<line x1="420.90" y1="664.70" x2="420.90" y2="668.70" stroke="#000000" stroke-width="1.0"/>
<line x1="461.20" y1="664.70" x2="461.20" y2="668.70" stroke="#000000" stroke-width="1.0"/>
<text x="421.30" y="676.80" font-size="7.00" font-weight="bold" text-anchor="middle">Ctrl</text>
<text x="461.80" y="676.80" font-size="7.00" font-weight="bold" text-anchor="middle">H1ssF</text>
<text x="461.80" y="684.70" font-size="7.00" font-weight="bold" text-anchor="middle">+AddaVax</text>
<text x="375.50" y="618.00" font-size="7.80" font-weight="bold" text-anchor="middle" transform="rotate(-90 375.50 618.00)">NC99 Stem IgG TT (Log<tspan font-size="70%" dy="1.2">2</tspan><tspan dy="-1.2">)</tspan></text>
<line x1="407.70" y1="658.40" x2="434.80" y2="658.40" stroke="#000000" stroke-width="1.0"/>
<line x1="448.00" y1="658.40" x2="474.70" y2="658.40" stroke="#000000" stroke-width="1.0"/>
<rect x="411.40" y="656.50" width="3.80" height="3.80" fill="#000000"/>
<circle cx="420.90" cy="658.40" r="1.90" fill="#000000"/>
<polygon points="428.50,656.75 426.45,660.45 430.55,660.45" fill="#000000"/>
<rect x="451.40" y="656.50" width="3.80" height="3.80" fill="#ff0000"/>
<circle cx="461.20" cy="658.40" r="1.90" fill="#ff0000"/>
<polygon points="468.80,656.75 466.75,660.45 470.85,660.45" fill="#ff0000"/>
</svg>
</body>
</html>
